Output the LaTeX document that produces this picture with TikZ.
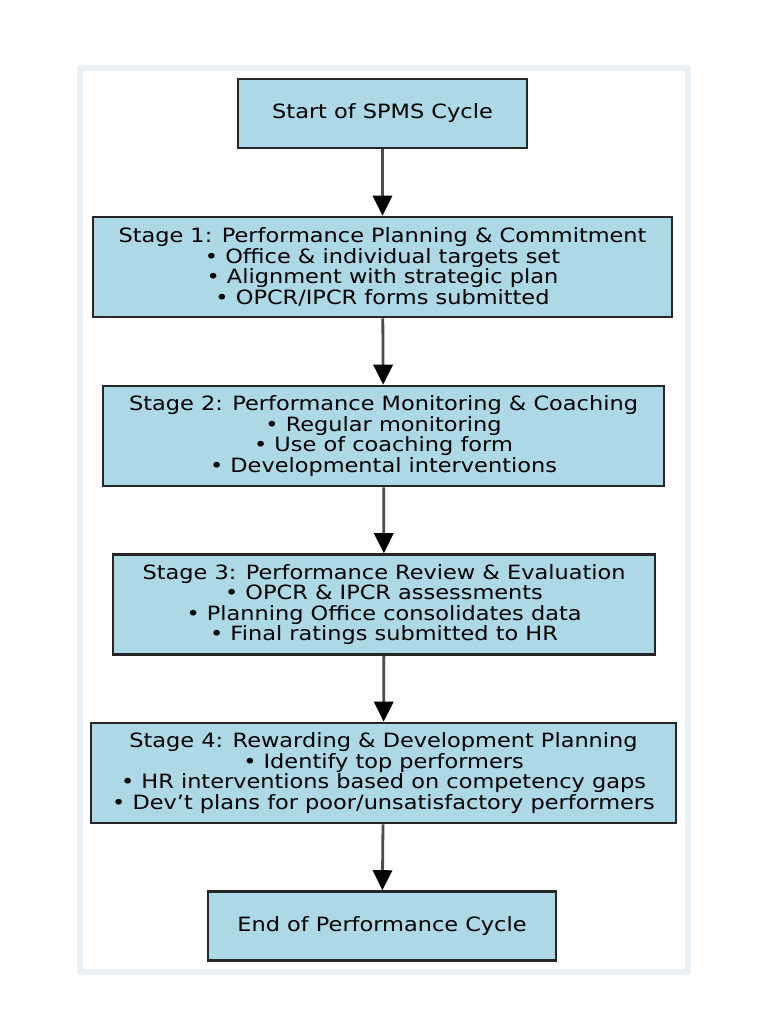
\documentclass[tikz,border=0pt]{standalone}
\usepackage{fontspec}
\setmainfont{DejaVu Sans}[FakeStretch=1.14]
\usetikzlibrary{arrows.meta}
\definecolor{boxblue}{RGB}{173,216,230}
\definecolor{framegray}{RGB}{236,241,245}
\tikzset{
  stagebox/.style={draw=black!85, line width=0.065cm, fill=boxblue, align=center,
    minimum height=2.5cm, inner sep=0pt,
    font=\fontsize{14}{14.6}\selectfont},
  endbox/.style={stagebox, minimum height=1.725cm},
  flowarrow/.style={draw=black!70, line width=0.07cm,
    -{Triangle[length=0.5cm,width=0.48cm,color=black]}}
}
\begin{document}
\begin{tikzpicture}[x=0.025cm,y=-0.025cm]
%%%%% START %%%%%
\useasboundingbox (0,0) rectangle (768,1024);
\draw[framegray, line width=0.15cm] (80,68) rectangle (688,972);

\node[endbox, minimum width=7.225cm] (start) at (382.5,113.5) {Start of SPMS Cycle};

\node[stagebox, minimum width=14.475cm] (s1) at (382.5,267) {Stage 1: Performance Planning \& Commitment\\
  • Office \& individual targets set\\
  • Alignment with strategic plan\\
  • OPCR/IPCR forms submitted};

\node[stagebox, minimum width=14.025cm] (s2) at (383.5,436) {Stage 2: Performance Monitoring \& Coaching\\
  • Regular monitoring\\
  • Use of coaching form\\
  • Developmental interventions};

\node[stagebox, minimum width=13.55cm] (s3) at (384,604.5) {Stage 3: Performance Review \& Evaluation\\
  • OPCR \& IPCR assessments\\
  • Planning Office consolidates data\\
  • Final ratings submitted to HR};

\node[stagebox, minimum width=14.625cm] (s4) at (383.5,773) {Stage 4: Rewarding \& Development Planning\\
  • Identify top performers\\
  • HR interventions based on competency gaps\\
  • Dev’t plans for poor/unsatisfactory performers};

\node[endbox, minimum width=8.7cm] (end) at (382,926) {End of Performance Cycle};

% connectors
\draw[flowarrow] (start) -- (s1);
\draw[flowarrow] (s1) -- (s2);
\draw[flowarrow] (s2) -- (s3);
\draw[flowarrow] (s3) -- (s4);
\draw[flowarrow] (s4) -- (end);
%%%%% END %%%%%
\end{tikzpicture}
\end{document}
